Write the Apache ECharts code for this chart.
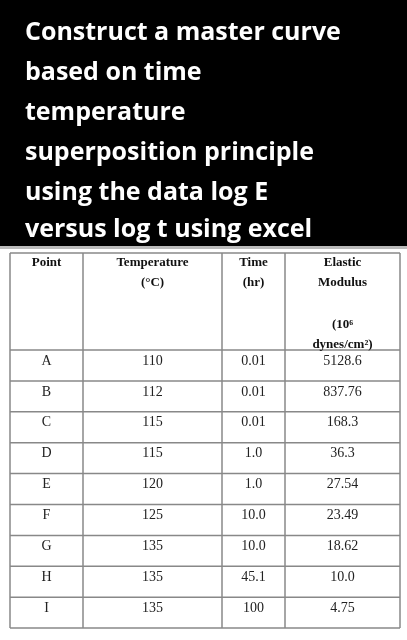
<!DOCTYPE html><html><head><meta charset="utf-8">
<script src="https://cdn.jsdelivr.net/npm/echarts@6/dist/echarts.min.js"></script>
<style>html,body{margin:0;padding:0;background:#fff}#c{width:407px;height:640px}</style></head><body><div id="c"></div>
<script>
const titleLines=["Construct a master curve","based on time","temperature","superposition principle","using the data log E","versus log t using excel"];
const headers=[["Point"],["Temperature","(°C)"],["Time","(hr)"],["Elastic","Modulus","","(10⁶","dynes/cm²)"]];
const points=["A","B","C","D","E","F","G","H","I"];
const temperature=["110","112","115","115","120","125","135","135","135"];
const time=["0.01","0.01","0.01","1.0","1.0","10.0","10.0","45.1","100"];
const modulus=["5128.6","837.76","168.3","36.3","27.54","23.49","18.62","10.0","4.75"];
(function(){
const chart=echarts.init(document.getElementById('c'));
const colX=[10,83,222,285,400];
const tableTop=253, headBottom=350, rowH=30.9;
const g=[];
g.push({type:'rect',shape:{x:0,y:0,width:407,height:246},style:{fill:'#000'}});
g.push({type:'rect',shape:{x:0,y:246,width:407,height:3},style:{fill:'#bbb'}});
titleLines.forEach((t,i)=>g.push({type:'text',x:25,y:[33,73,113,153,193,230][i],style:{text:t,fill:'#fff',font:'bold 25px "Open Sans"',textVerticalAlign:'middle'}}));
const bottom=headBottom+rowH*points.length;
const ln=(x1,y1,x2,y2)=>g.push({type:'line',shape:{x1,y1,x2,y2},style:{stroke:'#888',lineWidth:1.5}});
colX.forEach(x=>ln(x,tableTop,x,bottom));
ln(colX[0],tableTop,colX[4],tableTop);ln(colX[0],headBottom,colX[4],headBottom);
points.forEach((p,i)=>ln(colX[0],headBottom+rowH*(i+1),colX[4],headBottom+rowH*(i+1)));
headers.forEach((h,c)=>{const cx=(colX[c]+colX[c+1])/2;h.forEach((t,k)=>{if(t)g.push({type:'text',x:cx,y:263+k*20+(k>=3?2:0),style:{text:t,fill:'#111',font:'bold 13px "Liberation Serif"',textAlign:'center',textVerticalAlign:'middle'}});});});
const cols=[points,temperature,time,modulus];
cols.forEach((arr,c)=>{const cx=(colX[c]+colX[c+1])/2;arr.forEach((t,i)=>g.push({type:'text',x:cx,y:headBottom+rowH*i+11,style:{text:t,fill:'#222',font:'14px "Liberation Serif"',textAlign:'center',textVerticalAlign:'middle'}}));});
chart.setOption({animation:false,graphic:g});
})();
</script></body></html>
